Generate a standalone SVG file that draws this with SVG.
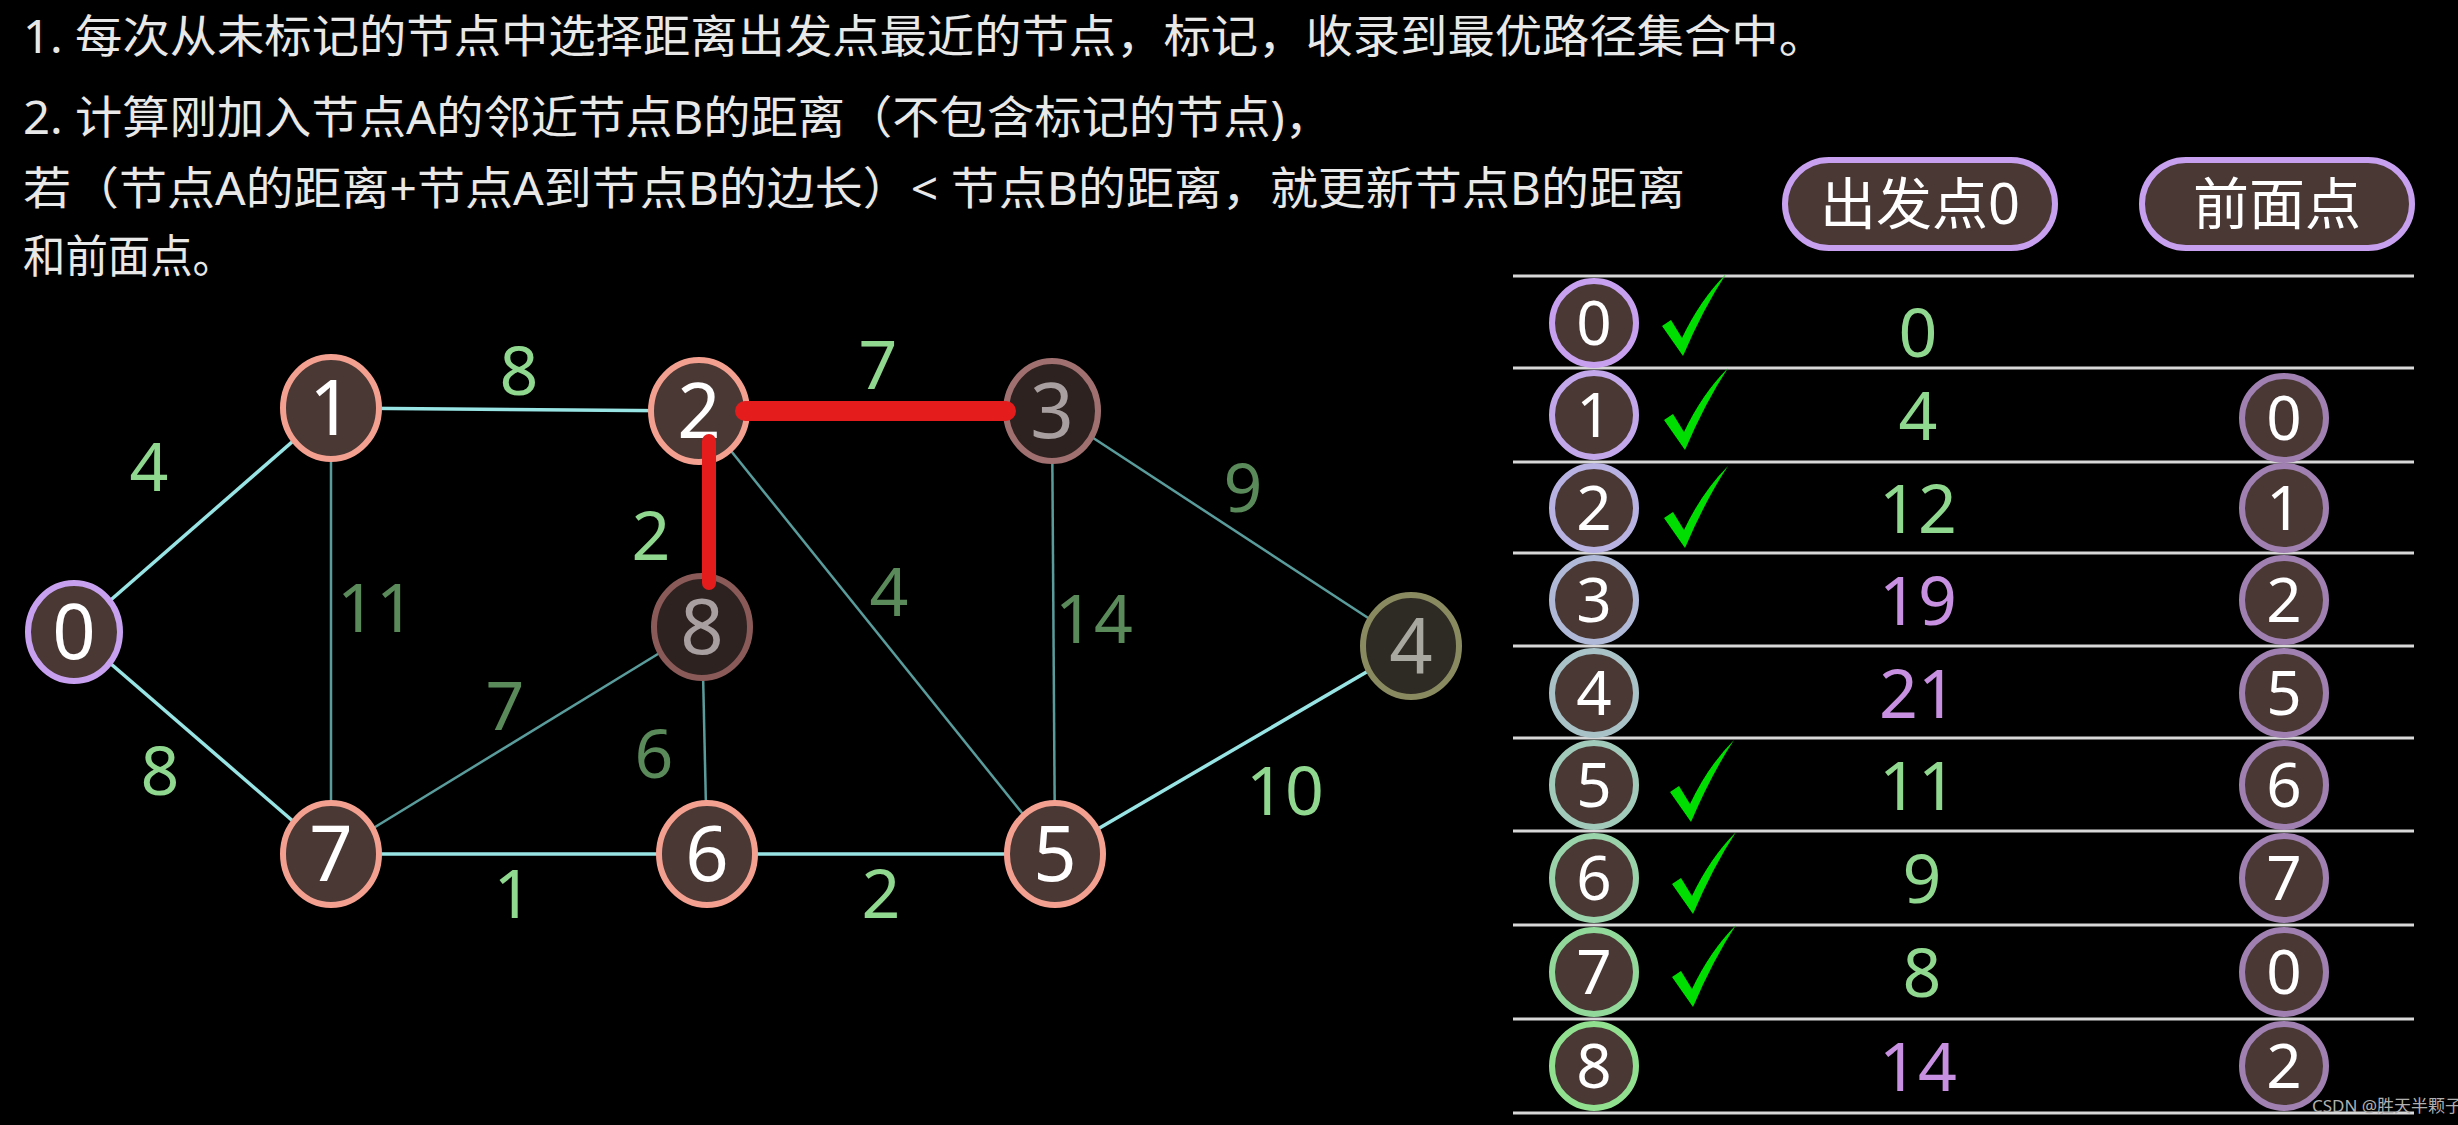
<svg xmlns="http://www.w3.org/2000/svg" width="2458" height="1125" viewBox="0 0 2458 1125">
<style>
text{font-family:"Noto Sans","Noto Sans CJK SC",sans-serif}
.t{fill:#e8e8e8;font-size:45px}
.nd ellipse{fill:#4a3835;stroke:#f4a090;stroke-width:6}
.nt{fill:#fff;font-size:76px;text-anchor:middle}
.eb{stroke:#98e4e4;stroke-width:3.5}
.ed{stroke:#5a9c9c;stroke-width:2.5}
.lb{fill:#90d890;font-size:68px;text-anchor:middle}
.ld{fill:#5a8a5a;font-size:68px;text-anchor:middle}
.hl{stroke:#d8d8d8;stroke-width:3}
.rc{fill:#4a3835;stroke-width:6}
.rt{fill:#fff;font-size:62px;text-anchor:middle}
.vg{fill:#90d890;font-size:68px;text-anchor:middle}
.vp{fill:#c890e0;font-size:68px;text-anchor:middle}
.ck{fill:#00dd00;stroke:none}
.pc{fill:#4a3835;stroke:#a080b0;stroke-width:6}
.pill{fill:#4a3835;stroke:#c8a0f0;stroke-width:6}
</style>
<defs>
<path id="chk" d="M0 0 L9 -6 L20 12 Q38 -26 64 -52 Q41 -17 21 30 Z"/>
</defs>
<rect width="2458" height="1125" fill="#000"/>
<text class="t" x="23" y="53" textLength="1803" lengthAdjust="spacingAndGlyphs">1. 每次从未标记的节点中选择距离出发点最近的节点，标记，收录到最优路径集合中。</text>
<text class="t" x="23" y="134" textLength="1309" lengthAdjust="spacingAndGlyphs">2. 计算刚加入节点A的邻近节点B的距离（不包含标记的节点)，</text>
<text class="t" x="23" y="205" textLength="1662" lengthAdjust="spacingAndGlyphs">若（节点A的距离+节点A到节点B的边长）&lt; 节点B的距离，就更新节点B的距离</text>
<text class="t" x="23" y="273" textLength="212" lengthAdjust="spacingAndGlyphs">和前面点。</text>
<g id="connectors">
<line class="eb" x1="74" y1="632" x2="331" y2="408"/>
<line class="eb" x1="74" y1="632" x2="331" y2="854"/>
<line class="eb" x1="331" y1="408" x2="699" y2="411"/>
<line class="eb" x1="331" y1="854" x2="707" y2="854"/>
<line class="eb" x1="707" y1="854" x2="1055" y2="854"/>
<line class="eb" x1="1055" y1="854" x2="1411" y2="646"/>
<line class="ed" x1="331" y1="408" x2="331" y2="854"/>
<line class="ed" x1="699" y1="411" x2="1055" y2="854"/>
<line class="ed" x1="1052" y1="411" x2="1055" y2="854"/>
<line class="ed" x1="1052" y1="411" x2="1411" y2="646"/>
<line class="ed" x1="331" y1="854" x2="702" y2="627"/>
<line class="ed" x1="702" y1="627" x2="707" y2="854"/>
</g>
<g id="edge-labels">
<text class="lb" x="519" y="395">8</text>
<text class="lb" x="878" y="389">7</text>
<text class="lb" x="149" y="491">4</text>
<text class="lb" x="651" y="560">2</text>
<text class="ld" x="376" y="632">11</text>
<text class="ld" x="889" y="616">4</text>
<text class="ld" x="1094" y="643">14</text>
<text class="ld" x="1243" y="512">9</text>
<text class="ld" x="505" y="730">7</text>
<text class="ld" x="654" y="778">6</text>
<text class="lb" x="160" y="795">8</text>
<text class="lb" x="1285" y="815">10</text>
<text class="lb" x="513" y="918">1</text>
<text class="lb" x="881" y="918">2</text>
</g>
<g id="node0" class="nd"><ellipse cx="74" cy="632" rx="46" ry="49" style="stroke:#c8a0f0"/><text class="nt" x="74" y="659">0</text></g>
<g id="node1" class="nd"><ellipse cx="331" cy="408" rx="48" ry="51"/><text class="nt" x="331" y="435">1</text></g>
<g id="node2" class="nd"><ellipse cx="699" cy="411" rx="48" ry="51"/><text class="nt" x="699" y="438">2</text></g>
<g id="node3" class="nd"><ellipse cx="1052" cy="411" rx="46" ry="50" style="fill:#2e2220;stroke:#a07070"/><text class="nt" x="1052" y="438" style="fill:#a8a0a0">3</text></g>
<g id="node8" class="nd"><ellipse cx="702" cy="627" rx="48" ry="51" style="fill:#2e2220;stroke:#8a5a58"/><text class="nt" x="702" y="654" style="fill:#a8a0a0">8</text></g>
<g id="node4" class="nd"><ellipse cx="1411" cy="646" rx="48" ry="51" style="fill:#2e2a24;stroke:#8a8a60"/><text class="nt" x="1411" y="673" style="fill:#a8a8a0">4</text></g>
<g id="node7" class="nd"><ellipse cx="331" cy="854" rx="48" ry="51"/><text class="nt" x="331" y="881">7</text></g>
<g id="node6" class="nd"><ellipse cx="707" cy="854" rx="48" ry="51"/><text class="nt" x="707" y="881">6</text></g>
<g id="node5" class="nd"><ellipse cx="1055" cy="854" rx="48" ry="51"/><text class="nt" x="1055" y="881">5</text></g>
<g id="path-highlight">
<line x1="745" y1="411" x2="1006" y2="411" stroke="#e41c1c" stroke-width="20" stroke-linecap="round"/>
<line x1="709" y1="441" x2="709" y2="583" stroke="#e41c1c" stroke-width="14" stroke-linecap="round"/>
</g>
<g id="table">
<g id="hdr1"><rect class="pill" x="1785" y="160" width="270" height="88" rx="44"/><text x="1920" y="224" fill="#fff" font-size="56" text-anchor="middle">出发点0</text></g>
<g id="hdr2"><rect class="pill" x="2142" y="160" width="270" height="88" rx="44"/><text x="2277" y="224" fill="#fff" font-size="56" text-anchor="middle">前面点</text></g>
<line class="hl" x1="1513" y1="276" x2="2414" y2="276"/>
<line class="hl" x1="1513" y1="368" x2="2414" y2="368"/>
<line class="hl" x1="1513" y1="462" x2="2414" y2="462"/>
<line class="hl" x1="1513" y1="553" x2="2414" y2="553"/>
<line class="hl" x1="1513" y1="646" x2="2414" y2="646"/>
<line class="hl" x1="1513" y1="738" x2="2414" y2="738"/>
<line class="hl" x1="1513" y1="831" x2="2414" y2="831"/>
<line class="hl" x1="1513" y1="925" x2="2414" y2="925"/>
<line class="hl" x1="1513" y1="1019" x2="2414" y2="1019"/>
<line class="hl" x1="1513" y1="1113" x2="2414" y2="1113"/>
<g id="r0"><circle class="rc" cx="1594" cy="323" r="42" stroke="#c8a0f0"/><text class="rt" x="1594" y="345">0</text><use href="#chk" class="ck" x="1662" y="326"/><text class="vg" x="1918" y="357" font-size="100">0</text></g>
<g id="r1"><circle class="rc" cx="1594" cy="415" r="42" stroke="#c2a8ea"/><text class="rt" x="1594" y="437">1</text><use href="#chk" class="ck" x="1664" y="420"/><text class="vg" x="1918" y="440">4</text><circle class="pc" cx="2284" cy="418" r="42"/><text class="rt" x="2284" y="440">0</text></g>
<g id="r2"><circle class="rc" cx="1594" cy="508" r="42" stroke="#b8b2e2"/><text class="rt" x="1594" y="530">2</text><use href="#chk" class="ck" x="1664" y="518"/><text class="vg" x="1918" y="533">12</text><circle class="pc" cx="2284" cy="508" r="42"/><text class="rt" x="2284" y="530">1</text></g>
<g id="r3"><circle class="rc" cx="1594" cy="600" r="42" stroke="#b0bad8"/><text class="rt" x="1594" y="622">3</text><text class="vp" x="1918" y="625">19</text><circle class="pc" cx="2284" cy="600" r="42"/><text class="rt" x="2284" y="622">2</text></g>
<g id="r4"><circle class="rc" cx="1594" cy="693" r="42" stroke="#a8c2c8"/><text class="rt" x="1594" y="715">4</text><text class="vp" x="1918" y="718">21</text><circle class="pc" cx="2284" cy="693" r="42"/><text class="rt" x="2284" y="715">5</text></g>
<g id="r5"><circle class="rc" cx="1594" cy="785" r="42" stroke="#a2caba"/><text class="rt" x="1594" y="807">5</text><use href="#chk" class="ck" x="1670" y="792"/><text class="vg" x="1918" y="810">11</text><circle class="pc" cx="2284" cy="785" r="42"/><text class="rt" x="2284" y="807">6</text></g>
<g id="r6"><circle class="rc" cx="1594" cy="878" r="42" stroke="#9ad2aa"/><text class="rt" x="1594" y="900">6</text><use href="#chk" class="ck" x="1672" y="884"/><text class="vg" x="1922" y="903">9</text><circle class="pc" cx="2284" cy="878" r="42"/><text class="rt" x="2284" y="900">7</text></g>
<g id="r7"><circle class="rc" cx="1594" cy="972" r="42" stroke="#92d89a"/><text class="rt" x="1594" y="994">7</text><use href="#chk" class="ck" x="1672" y="977"/><text class="vg" x="1922" y="997">8</text><circle class="pc" cx="2284" cy="972" r="42"/><text class="rt" x="2284" y="994">0</text></g>
<g id="r8"><circle class="rc" cx="1594" cy="1066" r="42" stroke="#90e090"/><text class="rt" x="1594" y="1088">8</text><text class="vp" x="1918" y="1091">14</text><circle class="pc" cx="2284" cy="1066" r="42"/><text class="rt" x="2284" y="1088">2</text></g>
</g>
<text x="2312" y="1112" fill="#b0b0b0" font-size="17">CSDN @胜天半颗子</text>
</svg>
